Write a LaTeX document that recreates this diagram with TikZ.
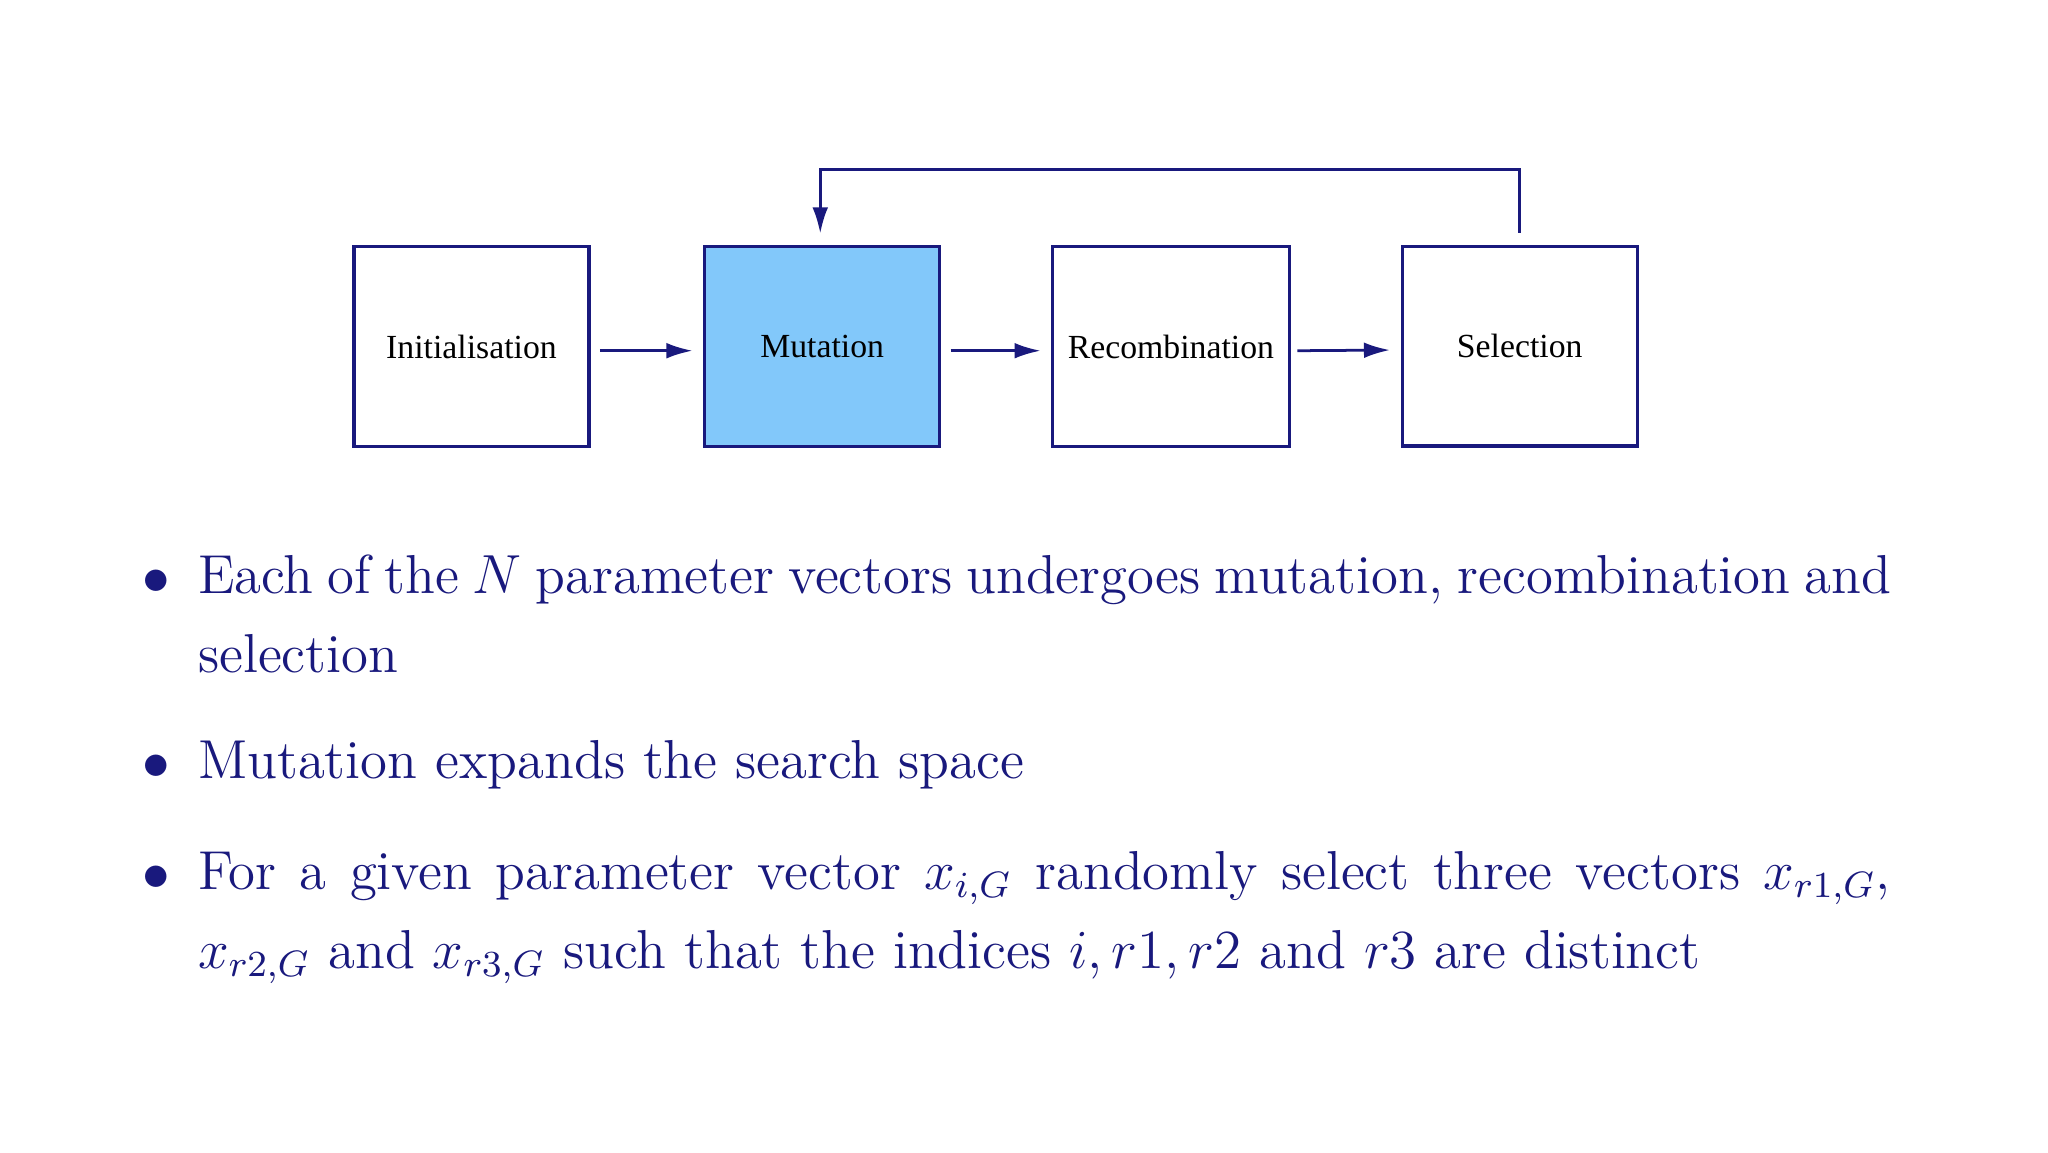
\documentclass[tikz,border=0pt]{standalone}
\usepackage{fontspec}
\setmainfont{Latin Modern Roman}
\newfontfamily\boxfont{Liberation Serif}
\definecolor{navy}{RGB}{25,25,125}
\definecolor{mutblue}{RGB}{130,200,250}
\tikzset{
  stage/.style={draw=navy, line width=0.7pt, minimum width=1.80cm, minimum height=1.53cm, inner sep=0pt, font=\boxfont\fontsize{7.35}{9}\selectfont, text=black},
  flow/.style={draw=navy, line width=0.6pt, -{Latex[length=2mm,width=1.2mm]}},
  item/.style={anchor=north west, inner sep=0pt, text width=12.96cm, align=justify, text=navy, font=\fontsize{11.95}{17.2}\selectfont},
  bul/.style={anchor=base, inner sep=0pt, text=navy, font=\fontsize{11.95}{17.2}\selectfont}
}
\usetikzlibrary{arrows.meta}
\begin{document}
\begin{tikzpicture}
\useasboundingbox[fill=white] (0,0) rectangle (15.68,-8.82);
\node[stage] (init) at (3.61,-2.655) {\raisebox{-0.04cm}{Initialisation}};
\node[stage, fill=mutblue] (mut) at (6.295,-2.655) {\raisebox{-0.04cm}{Mutation}};
\node[stage, minimum width=1.81cm] (rec) at (8.965,-2.655) {\raisebox{-0.04cm}{Recombination}};
\node[stage] (sel) at (11.635,-2.65) {\raisebox{-0.04cm}{Selection}};
\draw[flow] ([xshift=0.07cm,yshift=-0.03cm]init.east) -- ([xshift=-0.08cm,yshift=-0.03cm]mut.west);
\draw[flow] ([xshift=0.07cm,yshift=-0.03cm]mut.east) -- ([xshift=-0.08cm,yshift=-0.03cm]rec.west);
\draw[flow] ([xshift=0.05cm,yshift=-0.03cm]rec.east) -- ([xshift=-0.08cm,yshift=-0.03cm]sel.west);
\coordinate (c1) at (11.635,-1.30);
\coordinate (c2) at (6.28,-1.30);
\draw[flow] ([yshift=0.09cm]sel.north) -- (c1) -- (c2) -- ([xshift=-0.015cm,yshift=0.09cm]mut.north);
\node[bul] (b1) at (1.20,-4.55) {$\bullet$};
\node[item] (t1) at (1.51,-4.24) {Each of the $N$ parameter vectors undergoes mutation, recombination and selection};
\node[bul] (b2) at (1.20,-5.97) {$\bullet$};
\node[item] (t2) at (1.51,-5.66) {Mutation expands the search space};
\node[bul] (b3) at (1.20,-6.82) {$\bullet$};
\node[item] (t3) at (1.51,-6.51) {For a given parameter vector $x_{i,G}$ randomly select three vectors $x_{r1,G}$,\linebreak $x_{r2,G}$ and $x_{r3,G}$ such that the indices $i,r1,r2$ and $r3$ are distinct};
\end{tikzpicture}
\end{document}
